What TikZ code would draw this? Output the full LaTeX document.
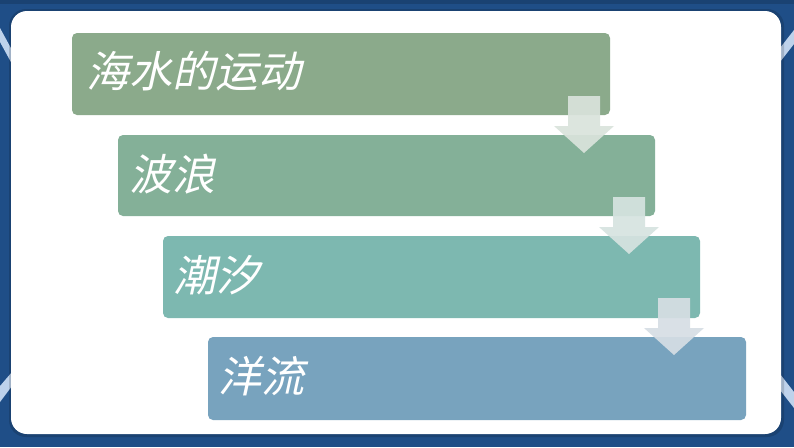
\documentclass[tikz,border=0pt]{standalone}
\usepackage{fontspec}
\newfontfamily\cjk[FakeSlant=0.22]{Noto Sans CJK SC}
\usetikzlibrary{positioning}
\definecolor{frameblue}{RGB}{31,78,135}
\definecolor{stripe}{RGB}{190,210,235}
\definecolor{boxA}{RGB}{139,170,139}
\definecolor{boxB}{RGB}{132,176,152}
\definecolor{boxC}{RGB}{125,184,176}
\definecolor{boxD}{RGB}{120,163,190}
\definecolor{arrowA}{RGB}{218,227,220}
\definecolor{arrowB}{RGB}{214,227,224}
\definecolor{arrowC}{RGB}{214,222,228}
\tikzset{
  x=1pt,y=-1pt,
  stepbox/.style={rounded corners=5pt, inner sep=0pt},
  steptext/.style={text=white, anchor=west, inner sep=0pt, font=\cjk\fontsize{43}{45}\selectfont},
  downarrow/.style={opacity=0.92},
}
\begin{document}
\begin{tikzpicture}
\useasboundingbox (0,0) rectangle (794,447);
% frame
\fill[frameblue] (0,0) rectangle (794,447);
\fill[frameblue!70!black, opacity=0.5] (0,0) rectangle (794,4);
% corner stripes
\fill[stripe] (0,28) -- (0,42) -- (12,64) -- (12,50) -- cycle;
\fill[stripe] (794,30) -- (794,44) -- (780,62) -- (780,48) -- cycle;
\fill[stripe] (0,386) -- (0,402) -- (12,386) -- (12,372) -- cycle;
\fill[stripe] (794,392) -- (794,408) -- (780,390) -- (780,374) -- cycle;
% panel shadow and panel
\fill[black, opacity=0.15, rounded corners=17pt] (9,9) rectangle (784,437);
\fill[white, rounded corners=16pt] (11,11) rectangle (781,434);
% boxes
\fill[boxA, stepbox] (72,33) rectangle (610,115);
\fill[boxB, stepbox] (118,135) rectangle (655,216);
\fill[boxC, stepbox] (163,236) rectangle (700,318);
\fill[boxD, stepbox] (208,337) rectangle (746,420);
% arrows
\fill[arrowA, downarrow] (568,96) -- (600,96) -- (600,126) -- (614,126) -- (584,153) -- (554,126) -- (568,126) -- cycle;
\fill[arrowB, downarrow] (613,197) -- (645,197) -- (645,227) -- (659,227) -- (629,254) -- (599,227) -- (613,227) -- cycle;
\fill[arrowC, downarrow] (658,298) -- (690,298) -- (690,328) -- (704,328) -- (674,355) -- (644,328) -- (658,328) -- cycle;
% texts
\node[steptext] (t1) at (86,71) {海水的运动};
\node[steptext] (t2) at (129,174) {波浪};
\node[steptext] (t3) at (173,275) {潮汐};
\node[steptext] (t4) at (218,376) {洋流};
\end{tikzpicture}
\end{document}
